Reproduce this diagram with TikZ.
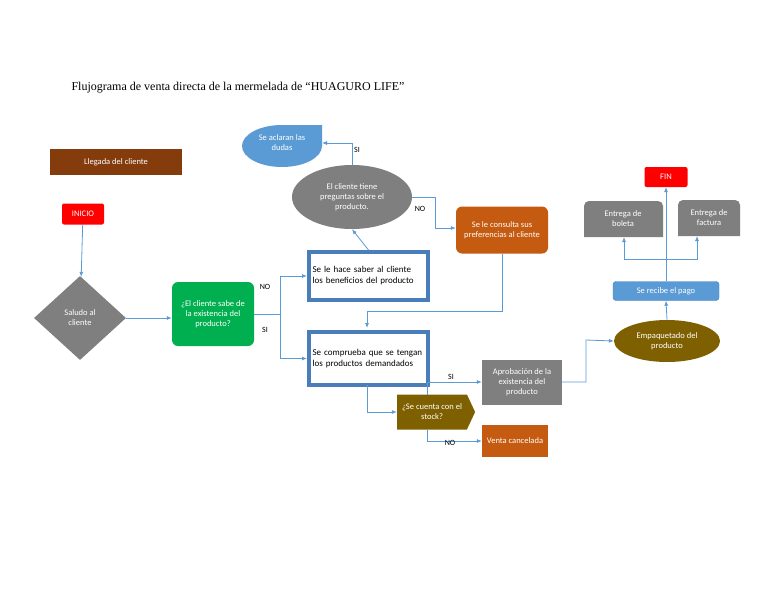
\documentclass[tikz,border=0pt]{standalone}
\usepackage{fontspec}
\setmainfont{Carlito}
\newfontfamily\ttlfont{Liberation Serif}
\usetikzlibrary{shapes.geometric,shapes.symbols,arrows.meta}
\definecolor{ln}{HTML}{5B9BD5}
\definecolor{gr}{HTML}{7F7F7F}
\definecolor{brn}{HTML}{843C0C}
\definecolor{olv}{HTML}{7F6000}
\definecolor{org}{HTML}{C55A11}
\definecolor{grn}{HTML}{00B050}
\definecolor{blu}{HTML}{5B9BD5}
\definecolor{frm}{HTML}{4A7EBB}
\begin{document}
\begin{tikzpicture}[x=1pt,y=-1pt,
 txt/.style={font=\fontsize{8.5}{10}\selectfont,align=center,text=white,inner sep=1pt},
 con/.style={draw=ln,line width=0.8pt,-{Latex[length=5pt,width=4pt]}},
 ln/.style={draw=ln,line width=0.8pt},
 lab/.style={font=\fontsize{8}{9}\selectfont,text=black}]
\useasboundingbox[fill=white] (0,0) rectangle (768,594);
\node[anchor=west,font=\ttlfont\fontsize{12}{14}\selectfont] (title) at (68,88) {Flujograma de venta directa de la mermelada de “HUAGURO LIFE”};
\node[txt,fill=brn,minimum width=132,minimum height=26] (lleg) at (116,162) {Llegada del cliente};
\node[txt,fill=red,rounded corners=2,minimum width=42,minimum height=21] (ini) at (83,214) {INICIO};
\node[txt,diamond,fill=gr,minimum width=92,minimum height=84,aspect=1.1] (sal) at (80,318) {Saludo al\\cliente};
\node[txt,fill=grn,rounded corners=6,minimum width=82,minimum height=64] (sabe) at (213,314) {¿El cliente sabe de\\la existencia del\\producto?};
\node[txt,font=\fontsize{9}{11}\selectfont,text=black,align=left,anchor=north west,draw=frm,line width=4pt,minimum width=119,minimum height=48,text width=112,inner sep=3pt] (b1) at (307,250) {Se le hace saber al cliente\\los beneficios del producto};
\node[txt,font=\fontsize{9}{11}\selectfont,text=black,align=left,anchor=north west,draw=frm,line width=4pt,minimum width=119,minimum height=53,text width=112,inner sep=3pt] (b2) at (307,330) {Se comprueba que se tengan\\los productos demandados};
\node[txt,ellipse,fill=gr,minimum width=120,minimum height=64] (preg) at (352,197) {El cliente tiene\\preguntas sobre el\\producto.};
\path[fill=blu] (322,125) -- (322,146) arc[start angle=0,end angle=180,x radius=40,y radius=21] arc[start angle=180,end angle=270,x radius=40,y radius=21] -- cycle;
\node[txt] (dud) at (282,143) {Se aclaran las\\dudas};
\coordinate (dudR) at (322,143);
\node[txt,fill=org,rounded corners=6,minimum width=92,minimum height=47] (pref) at (502,230) {Se le consulta sus\\preferencias al cliente};
\node[txt,shape=signal,signal to=east,signal pointer angle=130,fill=olv,minimum width=78,minimum height=35,inner sep=2pt] (stk) at (432,412) {¿Se cuenta con el\\stock?};
\node[txt,fill=gr,minimum width=80,minimum height=45] (apr) at (522,382) {Aprobación de la\\existencia del\\producto};
\node[txt,fill=org,minimum width=66,minimum height=32] (canc) at (515,441) {Venta cancelada};
\node[txt,ellipse,fill=olv,minimum width=106,minimum height=42] (emp) at (667,341) {Empaquetado del\\producto};
\node[txt,fill=blu,rounded corners=3,minimum width=106,minimum height=19,draw=frm,line width=0.4pt] (pago) at (666,291) {Se recibe el pago};
\node[txt,fill=red,rounded corners=2,minimum width=43,minimum height=20] (fin) at (666,177) {FIN};
\path[fill=gr,rounded corners=5] (584,237) -- (584,201) -- (663,201) [sharp corners]-- (663,237) -- cycle;
\node[txt] (bol) at (623,219) {Entrega de\\boleta};
\path[fill=gr,rounded corners=5] (678,236) -- (678,200) -- (740,200) [sharp corners]-- (740,236) -- cycle;
\node[txt] (fac) at (709,218) {Entrega de\\factura};
\coordinate (bolB) at (624,237);
\coordinate (facB) at (697,236);
% connectors
\draw[con] (ini) -- (sal);
\draw[con] (sal.east) -- (sabe.west |- sal.east);
\draw[ln] (sabe.east) -- (280,314);
\draw[con] (280,314) |- (b1.west);
\draw[con] (280,314) |- (b2.west);
\node[lab] at (265,287) {NO};
\node[lab] at (265,330) {SI};
\draw[con] (b1.north) -- (preg.south);
\draw[con] (preg.north) |- (dudR);
\node[lab] at (357,150) {SI};
\draw[con] (preg.east) -| (435,228) -- (pref.west |- 0,228);
\node[lab] at (420,209) {NO};
\draw[con] (pref.south) |- (367,311) -- (367,328);
\draw[con] (367,385) |- (stk.west);
\draw[con] (427,395) |- (apr.west);
\node[lab] at (451,377) {SI};
\draw[con] (427,430) |- (canc.west);
\node[lab] at (450,443) {NO};
\draw[con] (apr.east) -| (586,340) -- (emp.west);
\draw[con] (emp.north) -- (pago.south);
\draw[con] (pago.north) -- (fin.south);
\draw[con] (666,259) -| (bolB);
\draw[con] (666,259) -| (facB);
\end{tikzpicture}
\end{document}
